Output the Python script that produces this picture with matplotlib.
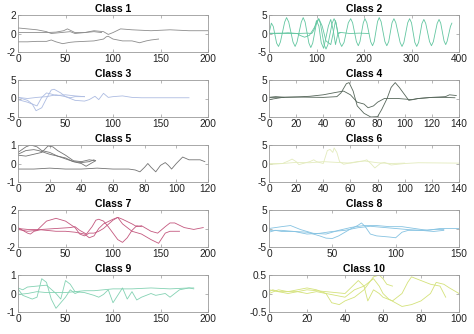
import matplotlib
matplotlib.use("Agg")
import matplotlib.pyplot as plt

plt.rcParams['font.family'] = ['Liberation Sans', 'DejaVu Sans']

titles = [f"Class {i}" for i in range(1, 11)]
colors = ['#8c8c8c', '#62c6a0', '#adbce2', '#56665a', '#737373',
          '#e3ebbd', '#c4587f', '#86c3e2', '#84d2b3', '#d4e27a']
xlims = [200, 400, 200, 140, 120, 140, 200, 150, 200, 100]
xsteps = [50, 100, 50, 20, 20, 20, 50, 50, 50, 20]
ylims = [2, 5, 5, 5, 1, 5, 2, 5, 1, 0.5]

# Class 1
c1_ax = [0, 10, 20, 30, 35, 40, 47, 55, 60, 70, 80, 90, 93, 95, 100, 110, 120, 128, 135, 140, 148]
c1_ay = [-0.9, -0.9, -0.85, -0.85, -0.7, -0.9, -1.1, -0.95, -0.9, -0.85, -0.8, -0.6, -0.35, -0.3, -0.6, -0.8, -0.8, -1.0, -0.8, -0.7, -0.6]
c1_bx = [0, 10, 20, 30, 40, 48, 52, 56, 60, 70, 80, 90, 95, 100, 108, 120, 140, 160, 180, 200]
c1_by = [0.1, 0.1, 0.1, 0.1, 0.15, 0.3, 0.5, 0.3, 0.1, 0.1, 0.3, 0.2, -0.1, 0.1, 0.5, 0.4, 0.3, 0.4, 0.3, 0.3]
c1_cx = [0, 10, 20, 30, 35, 45, 55, 60, 70, 80, 88]
c1_cy = [0.6, 0.5, 0.4, 0.2, 0.0, 0.1, 0.2, 0.0, 0.1, 0.2, 0.1]

# Class 2
c2_ax = [0, 5, 9, 12.5, 16, 20, 24, 28.5, 33, 37, 41.5, 46, 50.5, 55, 59, 63.5, 68, 72, 76, 80, 84, 88,
         92, 96, 100, 104, 108, 112, 116, 120, 124, 128.5, 133, 137, 141, 145, 149, 153, 158, 162.5, 167, 172,
         176, 180, 184, 188, 191.5, 195, 198.5, 202, 206, 210, 214, 218, 221.5, 225, 228.5, 232, 236, 240, 244,
         248, 252, 255.5, 259, 263, 267, 271.5, 276, 280, 284, 288, 292, 296, 300, 303.5, 307, 311, 315, 318.5,
         322, 326, 330, 334, 338, 342, 346, 350, 354, 358, 361.5, 365, 368.5, 372, 375, 378.5, 382, 385]
c2_ay = [0, 2.8, 1.9, -0.35, -2.6, -3.5, -2.3, 0.4, 3.1, 4.3, 3.1, 0.4, -2.3, -3.5, -2.3, 0.4, 3.1, 4.3, 3.1, 0.25, -2.6, -3.8,
         -2.6, 0.1, 2.8, 4.0, 2.8, -0.1, -3.0, -4.2, -3.0, -0.1, 2.8, 4.0, 2.9, 0.25, -2.4, -3.5, -2.4, 0.25, 2.9, 4.0,
         2.9, 0.35, -2.2, -3.3, -2.2, 0.35, 2.9, 4.0, 2.9, 0.35, -2.2, -3.3, -2.2, 0.5, 3.2, 4.3, 3.2, 0.5, -2.2,
         -3.3, -2.2, 0.35, 2.9, 4.0, 2.9, 0.25, -2.4, -3.5, -2.4, 0.25, 2.9, 4.0, 2.9, 0.25, -2.4, -3.5, -2.4, 0.15,
         2.7, 3.8, 2.7, 0.25, -2.2, -3.3, -2.2, 0.25, 2.7, 3.8, 2.8, 0.4, -2.0, -3.0, -2.1, -0.1, 1.9, 2.8]
c2_bx = [0, 20, 40, 60, 80, 90, 95, 100, 105, 110, 115, 120, 125, 130, 135, 140, 145, 150, 170, 190, 210]
c2_by = [0.1, 0.0, 0.2, 0.0, 0.1, 0.0, 1.0, 3.5, 2.0, -2.5, -4.0, -1.0, 2.0, 3.8, 1.0, -3.0, 0.0, 0.3, 0.0, 0.1, 0.0]
c2_cx = [0, 20, 40, 60, 65, 75, 85, 95, 105, 112, 120, 130, 135, 140, 145, 150]
c2_cy = [0.0, 0.1, 0.0, 0.0, -0.5, -1.0, -0.5, 1.5, 4.0, 2.0, -2.0, -3.0, 0.0, 3.5, 0.0, 0.2]

# Class 3
c3_ax = [0, 10, 20, 30, 40, 50, 60, 70, 75, 81, 85, 90, 95, 100, 110, 120, 130, 150, 180]
c3_ay = [0.3, 0.0, 0.3, 0.5, 1.0, 0.5, -0.5, -0.7, -0.3, 0.6, -0.3, 1.4, 0.3, 0.5, 0.7, 0.3, 0.2, 0.2, 0.2]
c3_bx = [0, 10, 15, 19, 25, 30, 35, 38, 45, 50, 55, 60, 70]
c3_by = [0.3, -0.5, -1.5, -3.3, -2.5, 0.0, 2.3, 2.5, 1.5, 0.5, 0.2, 0.5, 0.5]
c3_cx = [0, 10, 15, 20, 25, 30, 35, 40, 50, 60, 70]
c3_cy = [-0.3, -1.0, -1.5, -2.0, 0.3, 1.5, 1.2, 0.8, 1.0, 0.7, 0.5]

# Class 4
c4_ax = [0, 20, 40, 50, 53, 57, 59, 62, 65, 70, 75, 80, 83, 87, 90, 93, 96, 100, 103, 106, 110, 120, 130, 133, 138]
c4_ay = [0.3, 0.4, 0.3, 0.5, 1.5, 4.0, 4.3, 2.0, -2.0, -4.0, -5.0, -4.9, -3.0, 0.0, 3.0, 4.3, 3.0, 1.0, -0.5, -0.3, 0.0, 0.3, 0.5, 1.0, 0.8]
c4_bx = [0, 10, 20, 30, 40, 50, 55, 60, 65, 70, 73, 77, 80, 85, 95, 105, 110, 120, 130, 137]
c4_by = [-0.3, 0.3, 0.4, 0.6, 1.0, 1.7, 2.0, 1.0, -1.0, -1.5, -2.5, -2.0, -1.0, 0.0, 0.0, -0.3, 0.0, 0.3, 0.3, 0.2]
c4_cx = [0, 5, 11]
c4_cy = [0.3, 0.5, 0.3]

# Class 5
c5_ax = [0, 10, 20, 30, 40, 50, 60, 70, 74, 77, 80, 82, 84, 87, 90, 93, 95, 97, 100, 104, 108, 115, 118]
c5_ay = [-0.3, -0.3, -0.25, -0.3, -0.3, -0.25, -0.3, -0.3, -0.35, -0.45, -0.2, 0.0, -0.2, -0.45, -0.1, 0.05, -0.1, -0.3, 0.0, 0.35, 0.2, 0.2, 0.1]
c5_bx = [0, 5, 8, 12, 15, 20, 25, 30, 35, 40, 43, 46, 49]
c5_by = [0.6, 0.9, 1.0, 0.9, 0.7, 0.6, 0.4, 0.25, 0.1, 0.0, -0.15, 0.0, 0.15]
c5_cx = [0, 5, 10, 15, 19, 22, 25, 30, 35, 40, 45, 49]
c5_cy = [0.45, 0.4, 0.5, 0.6, 0.95, 0.9, 0.7, 0.45, 0.15, 0.1, 0.2, 0.15]
c5_dx = [0, 5, 10, 13, 20, 30, 35, 40, 45, 48]
c5_dy = [0.5, 0.7, 0.75, 0.7, 0.5, 0.3, 0.1, 0.05, 0.1, 0.2]

# Class 6
c6_ax = [0, 10, 15, 17, 20, 22, 25, 30, 33, 35, 40, 43, 45, 47, 48, 50, 52, 55, 60, 65, 70, 72, 75, 78, 82, 85, 90, 100, 110, 140]
c6_ay = [0, 0, 0.8, 1.2, 0.5, -0.3, 0, 0.5, 1.0, 0.5, 0, 3.5, 3.8, 3.0, 4.2, 3.0, 0.5, -0.2, 0.2, 0.5, 0.7, 1.0, 0, -1.2, 0, 0.3, -0.4, 0, 0.2, 0.1]
c6_bx = [0, 10, 20, 30, 40, 50, 60, 70, 80, 90, 100]
c6_by = [-0.3, 0.0, 0.3, 0.2, 0.5, 0.3, 0.1, 0.7, 0.2, 0.0, 0.1]

# Class 7
c7_ax = [0, 10, 20, 25, 30, 40, 50, 60, 65, 70, 75, 80, 85, 90, 100, 105, 110, 120, 125, 130, 140, 147, 155, 160, 165, 175, 185, 195]
c7_ay = [-0.1, -0.3, -0.2, 0.3, 0.8, 1.1, 0.8, 0.1, -0.6, -0.8, -0.5, -0.5, -0.3, 0.0, 0.9, 1.2, 1.0, 0.5, 0.2, 0.3, -0.3, -0.5, 0.2, 0.6, 0.6, 0.1, -0.1, 0.1]
c7_bx = [0, 10, 20, 30, 40, 50, 60, 70, 75, 80, 85, 90, 100, 105, 110, 120, 130, 140, 148, 155, 160, 170]
c7_by = [0.0, -0.1, -0.1, -0.2, -0.3, -0.3, -0.4, -0.6, -1.0, -0.8, 0.0, 0.5, 1.0, 1.2, 0.5, -0.3, -0.6, -1.2, -1.6, -0.5, -0.3, -0.3]
c7_cx = [0, 5, 10, 13, 17, 25, 40, 55, 60, 65, 72, 78, 82, 85, 90, 95, 100, 105, 110, 115, 120, 125, 130]
c7_cy = [0.1, -0.2, -0.5, -0.6, -0.3, -0.1, 0.0, 0.1, 0.2, -0.2, -0.6, 0.2, 0.9, 1.0, 0.8, 0.2, -0.5, -1.2, -1.5, -1.0, -0.2, 0.3, 0.2]

# Class 8
c8_ax = [0, 10, 17, 25, 35, 45, 55, 65, 75, 85, 95, 105, 115, 125, 135, 150]
c8_ay = [0.0, 0.5, 0.8, -0.3, -1.3, -1.5, -0.5, 0.3, 0.8, 0.8, 0.5, 0.5, 0.0, -0.5, 0.0, 0.0]
c8_bx = [0, 5, 10, 20, 30, 40, 45, 50, 55, 65, 70, 73, 76, 80, 85, 95, 100, 105, 110, 120, 130, 138]
c8_by = [-1.0, -0.5, -0.8, -0.8, -1.0, -2.0, -2.6, -2.7, -2.0, 0.0, 0.8, 1.5, 0.5, -1.5, -2.0, -2.3, -2.5, -1.0, -0.5, -0.5, -0.8, -0.5]
c8_cx = [0, 10, 20, 30, 40, 50, 60, 70, 80, 90, 100, 110, 120, 130, 138]
c8_cy = [-0.5, -0.5, -0.8, -1.5, -1.3, -0.8, -0.5, 0.2, 0.6, 0.3, 0.0, -0.3, -0.5, -0.3, -0.3]

# Class 9
c9_ax = [0, 5, 10, 20, 30, 40, 45, 50, 55, 60, 70, 80, 85, 90, 95, 100, 105, 110, 115, 120, 125, 130, 140, 145, 155, 160, 165, 170, 180, 185]
c9_ay = [0.3, 0.2, 0.35, 0.4, 0.45, 0.0, -0.3, 0.7, 0.5, 0.1, 0.05, -0.1, -0.2, -0.05, 0.2, -0.5, -0.1, 0.3, -0.3, 0.1, -0.35, -0.2, 0.0, -0.1, 0.0, -0.2, 0.0, 0.2, 0.3, 0.25]
c9_bx = [0, 5, 10, 15, 20, 25, 30, 35, 40, 45, 50, 55, 60, 65]
c9_by = [0.25, -0.1, -0.2, -0.3, -0.2, 0.8, 0.6, -0.3, -0.8, -0.5, -0.2, 0.2, 0.0, 0.1]
c9_cx = [0, 10, 20, 30, 40, 50, 60, 70, 80, 90, 100, 120, 140, 160, 180, 185]
c9_cy = [-0.05, 0.0, 0.1, 0.05, 0.05, 0.05, 0.1, 0.15, 0.15, 0.2, 0.25, 0.25, 0.3, 0.25, 0.3, 0.3]

# Class 10
c10_ax = [0, 2, 5, 10, 15, 20, 25, 30, 35, 40, 45, 50, 55, 58, 60, 63, 70, 75, 80, 85, 88, 92, 95, 100]
c10_ay = [0.05, 0.1, 0.05, 0.05, 0.05, 0.0, 0.05, 0.0, -0.05, -0.1, 0.1, 0.2, 0.4, 0.2, 0.0, -0.15, -0.35, -0.3, -0.2, 0.0, 0.3, 0.25, 0.15, 0.0]
c10_bx = [0, 5, 10, 20, 25, 30, 33, 37, 40, 45, 50, 55, 58, 60, 62, 65]
c10_by = [0.0, 0.1, 0.05, 0.15, 0.1, 0.0, -0.25, -0.3, -0.2, -0.1, 0.1, 0.45, 0.5, 0.4, 0.25, 0.2]
c10_cx = [0, 10, 20, 30, 40, 43, 47, 50, 52, 55, 58, 60, 65, 70, 73, 75, 80, 85, 90, 93]
c10_cy = [0.1, 0.0, 0.1, 0.05, 0.0, 0.15, 0.35, 0.2, -0.2, 0.1, 0.0, -0.1, -0.2, 0.0, 0.3, 0.45, 0.35, 0.25, 0.2, -0.1]

series = [
    [(c1_ax, c1_ay), (c1_bx, c1_by), (c1_cx, c1_cy)],
    [(c2_ax, c2_ay), (c2_bx, c2_by), (c2_cx, c2_cy)],
    [(c3_ax, c3_ay), (c3_bx, c3_by), (c3_cx, c3_cy)],
    [(c4_ax, c4_ay), (c4_bx, c4_by), (c4_cx, c4_cy)],
    [(c5_ax, c5_ay), (c5_bx, c5_by), (c5_cx, c5_cy), (c5_dx, c5_dy)],
    [(c6_ax, c6_ay), (c6_bx, c6_by)],
    [(c7_ax, c7_ay), (c7_bx, c7_by), (c7_cx, c7_cy)],
    [(c8_ax, c8_ay), (c8_bx, c8_by), (c8_cx, c8_cy)],
    [(c9_ax, c9_ay), (c9_bx, c9_by), (c9_cx, c9_cy)],
    [(c10_ax, c10_ay), (c10_bx, c10_by), (c10_cx, c10_cy)],
]

fig = plt.figure(figsize=(4.74, 3.34), dpi=100)
W, H = 474, 334
col_left = [18, 269]
ax_w = 190
ax_h = 37
for i in range(10):
    r, c = divmod(i, 2)
    top = 15 + 65 * r
    ax = fig.add_axes([col_left[c] / W, 1 - (top + ax_h) / H, ax_w / W, ax_h / H])
    for xs, ys in series[i]:
        ax.plot(xs, ys, color=colors[i], lw=0.6)
    ax.set_xlim(0, xlims[i])
    ax.set_ylim(-ylims[i], ylims[i])
    ax.set_xticks(list(range(0, xlims[i] + 1, xsteps[i])))
    yl = ylims[i]
    ax.set_yticks([-yl, 0, yl])
    if yl == 0.5:
        ax.set_yticklabels(['-0.5', '0', '0.5'])
    else:
        ax.set_yticklabels([str(int(-yl)), '0', str(int(yl))])
    ax.tick_params(direction='in', length=2, width=0.5, labelsize=7.3,
                   pad=1.5, colors='#9a9a9a', labelcolor='#222222',
                   top=True, right=True)
    for s in ax.spines.values():
        s.set_color('#9a9a9a')
        s.set_linewidth(0.6)
    ax.set_title(titles[i], fontsize=7.5, fontweight='bold', pad=2)

fig.savefig('out.png', dpi=100)
